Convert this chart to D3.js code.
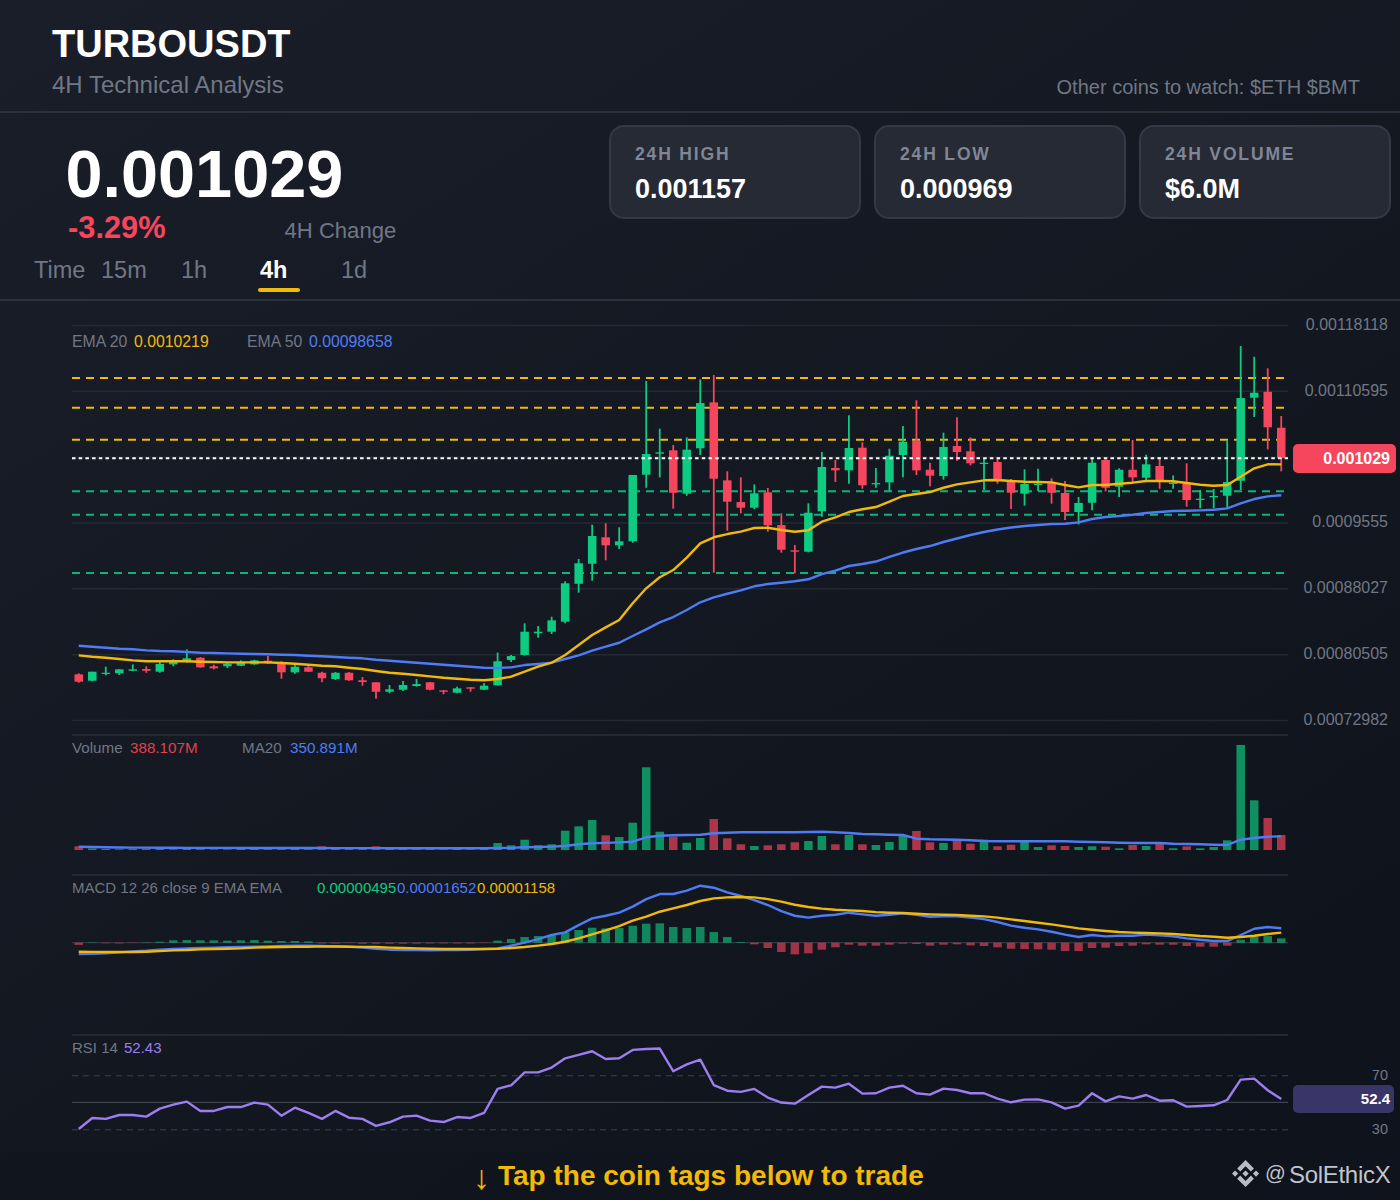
<!DOCTYPE html>
<html>
<head>
<meta charset="utf-8">
<script src="https://cdn.jsdelivr.net/npm/d3@7"></script>
<style>
  html, body { margin: 0; padding: 0; background: #12161f; }
  svg { display: block; font-family: "Liberation Sans", Arial, sans-serif; }
</style>
</head>
<body>
<div id="chart"></div>
<script>
// prices are in millionths of USDT
const opens = [782.0,774.7,782.4,783.2,786.1,788.1,785.0,793.4,796.4,801.0,
  791.2,791.2,791.8,793.4,797.6,794.6,784.3,790.0,783.8,776.7,
  783.8,775.2,772.9,762.1,764.4,768.7,772.9,763.7,761.0,767.2,
  764.4,769.5,798.4,804.1,828.9,830.7,842.1,885.5,908.4,938.6,
  929.4,934.0,1010.1,1034.1,1038.0,988.4,1040.3,1092.8,1003.7,978.9,
  972.4,990.0,952.6,923.7,922.1,968.3,1017.8,1015.1,1041.0,999.1,
  1001.4,1032.6,1048.6,1015.8,1008.6,1042.9,1036.8,1022.3,1024.6,1004.0,
  988.4,998.3,1000.6,989.2,967.5,978.1,1026.9,996.4,1015.8,1006.7,
  1020.1,999.5,1000.3,981.2,984.3,986.1,1003.2,1098.1,1104.9,1063.8]
const closes = [773.6,785.0,783.8,787.7,787.7,786.1,793.8,797.6,800.3,790.0,
  788.9,794.1,795.3,798.0,794.6,784.3,790.7,785.0,777.5,783.8,
  775.2,773.2,762.1,764.9,769.8,770.9,764.4,762.1,766.0,765.6,
  769.0,796.9,802.9,830.7,830.7,843.7,886.0,908.9,940.1,929.4,
  934.0,1009.8,1033.8,1035.7,989.5,1038.7,1092.0,1005.5,979.3,972.4,
  988.8,952.3,924.4,922.1,966.7,1018.9,1015.1,1040.6,998.0,1000.6,
  1031.8,1047.8,1015.1,1009.0,1041.8,1036.0,1023.1,1023.8,1004.0,989.5,
  999.5,999.8,989.5,967.5,977.8,1023.8,995.2,1015.8,1007.1,1022.0,
  1002.9,1001.0,981.2,982.7,985.8,1001.8,1097.7,1103.8,1064.3,1029.0]
const highs = [783.2,785.0,790.7,787.7,793.4,791.2,796.9,799.2,810.6,801.8,
  793.0,796.4,798.0,798.7,802.9,796.9,793.0,792.6,785.0,784.6,
  784.6,778.9,773.2,769.8,774.4,776.7,773.2,764.1,767.9,767.5,
  771.7,806.9,804.1,840.3,837.2,847.8,888.3,913.8,953.0,954.6,
  950.0,1009.8,1117.2,1062.7,1044.0,1052.8,1119.1,1124.0,1014.0,1007.1,
  999.1,994.9,966.0,929.8,977.4,1036.0,1026.9,1078.0,1047.1,1017.8,
  1039.8,1065.8,1095.1,1023.8,1058.1,1075.7,1052.8,1028.8,1029.5,1005.2,
  1016.3,1017.0,1006.0,1002.9,984.6,1028.8,1027.7,1017.4,1049.8,1033.0,
  1030.0,1009.4,1023.1,992.6,993.8,1049.8,1157.2,1144.9,1131.7,1077.2]
const lows = [772.4,774.0,780.9,781.2,785.8,783.8,783.8,791.2,795.3,789.6,
  787.7,789.2,791.5,793.0,793.8,777.0,782.7,784.6,772.9,775.5,
  774.7,769.0,754.1,760.3,762.9,767.9,763.7,759.2,760.3,762.1,
  764.1,769.0,796.1,803.3,823.8,828.1,840.3,875.3,889.0,912.3,
  925.2,932.4,995.2,1007.1,971.3,986.1,1032.6,898.1,946.1,966.0,
  970.6,945.0,921.0,897.4,921.4,962.1,1001.8,999.8,994.1,995.2,
  991.5,1007.1,1009.8,996.8,1004.4,1026.1,1020.8,992.6,999.8,970.9,
  974.7,991.5,977.0,958.3,953.4,969.4,991.1,984.6,1001.0,1002.9,
  994.1,994.1,973.5,971.7,971.7,972.4,992.6,1076.0,1039.1,1014.0]
const ema20 = [803.7,802.1,801.0,799.5,798.0,796.9,796.9,796.9,796.9,796.4,
  796.1,795.7,795.7,795.7,795.7,794.9,794.1,793.0,791.8,791.2,
  789.6,788.1,785.8,783.8,782.7,781.2,779.7,778.1,777.0,775.8,
  775.2,776.7,779.3,785.2,790.7,795.3,804.1,815.5,826.9,835.7,
  844.1,863.2,880.3,892.9,901.2,915.3,931.7,938.6,942.3,945.0,
  949.2,949.5,946.9,945.0,946.6,956.4,961.4,967.5,970.6,973.2,
  979.3,985.8,988.1,990.3,995.2,999.1,1001.4,1003.7,1004.0,1002.9,
  1002.1,1001.8,1001.4,998.3,995.7,998.3,998.3,999.8,1001.0,1002.9,
  1002.9,1002.6,1000.6,998.7,997.5,998.3,1007.8,1017.4,1022.0,1021.9]
const ema50 = [814.7,813.6,812.4,811.3,810.6,809.4,808.6,808.3,807.5,806.7,
  806.4,806.0,805.6,805.2,804.9,804.4,804.1,803.3,802.6,801.8,
  801.0,800.3,798.7,797.6,796.4,795.3,794.1,793.0,791.8,790.7,
  789.6,789.2,790.0,792.6,793.8,795.3,799.5,803.7,809.0,813.6,
  818.1,825.8,833.4,841.4,847.5,855.5,864.3,870.0,874.1,878.0,
  882.6,885.2,886.7,888.3,890.6,896.6,900.6,905.8,908.1,910.9,
  916.1,921.2,925.2,928.6,933.2,937.2,941.2,944.6,947.5,949.8,
  951.5,952.6,953.8,954.1,955.7,959.5,961.8,962.9,964.4,966.3,
  967.5,968.6,969.0,969.4,970.1,971.7,977.4,982.3,985.4,986.58]
const resistanceLevels = [1120.6,1086.7,1050.1]
const supportLevels = [991.1,964.4,897.8]
const lastPrice = 1029.0
const priceTicks = [1181.18,1105.95,1030.73,955.5,880.27,805.05,729.82]
// the 1030.73 label sits behind the last price tag
const priceTickLabels = ["0.00118118","0.00110595","","0.0009555","0.00088027","0.00080505","0.00072982"]

// volume in millions
const volumes = [95,39,26,18,26,39,26,18,34,26,
  18,18,26,26,34,52,34,34,95,34,
  44,34,95,34,26,21,26,21,26,21,
  26,181,121,266,121,147,498,611,774,379,
  335,704,2134,472,343,188,310,800,302,147,
  103,121,147,199,232,361,147,387,147,129,
  206,361,490,199,181,250,163,266,95,137,
  214,77,121,103,77,95,85,44,129,103,
  188,44,95,44,77,250,2710,1282,826,388.1]
const volumeMa20 = [85,77,70,65,62,60,58,57,56,55,
  54,54,53,53,52,52,51,50,50,49,
  49,48,48,47,47,46,45,45,44,44,
  46,50,54,70,76,88,103,147,173,185,
  197,214,328,369,379,387,395,431,446,457,
  457,457,457,457,464,472,457,439,413,405,
  395,387,292,276,271,266,250,232,224,224,
  224,224,224,224,214,206,199,188,181,181,
  181,163,155,147,137,129,266,310,343,350.9]

// macd values in millionths
const macdHist = [-2.5,0.4,-0.6,-0.8,-0.4,0.4,1.1,2.7,3.0,2.7,
  2.7,2.3,2.7,3.0,2.3,1.9,1.9,1.5,-0.8,-0.8,
  -0.4,-1.1,-1.1,-1.1,-1.1,-1.0,-0.8,-0.8,-0.8,-0.8,
  -0.4,2.3,4.2,6.5,7.6,8.4,11.8,14.5,17.2,16.4,
  16.8,19.5,21.8,22.2,18.0,16.8,18.0,12.2,6.5,0.8,
  -1.9,-6.1,-10.7,-13.4,-12.2,-8.0,-5.3,-2.3,-3.4,-3.4,
  -2.3,-1.1,-1.5,-3.4,-2.3,-1.9,-3.1,-3.8,-5.3,-6.9,
  -7.3,-7.6,-8.0,-9.6,-9.6,-6.1,-5.7,-3.8,-3.4,-1.9,
  -2.3,-2.3,-3.8,-4.6,-4.6,-3.4,3.4,7.3,7.6,4.95]
const macdLine = [-13.0,-12.6,-12.2,-11.1,-9.9,-9.2,-8.0,-7.3,-6.5,-6.1,
  -5.7,-5.3,-5.0,-4.6,-4.2,-3.8,-3.4,-3.4,-3.8,-4.2,
  -4.6,-5.7,-6.9,-8.0,-8.4,-8.4,-8.8,-8.4,-8.4,-8.0,
  -7.3,-6.5,-3.4,0,4.2,8.8,11.8,20.2,27.9,30.9,
  34.4,41.3,50.0,55.8,55.8,59.6,65.3,63.0,57.7,53.5,
  48.9,43.2,36.3,30.9,28.7,30.9,32.1,34.4,32.5,30.9,
  32.1,33.6,32.1,29.8,30.2,30.2,28.7,27.1,23.7,19.5,
  17.2,15.3,12.6,9.2,6.5,8.8,7.3,8.0,8.0,9.2,
  8.4,7.3,5.0,3.4,1.9,1.9,8.8,16.0,18.0,16.52]
const signalLine = [-10.3,-10.5,-10.7,-10.7,-10.7,-10.3,-9.6,-8.8,-8.4,-7.6,
  -7.3,-6.9,-6.5,-5.7,-5.3,-5.0,-4.6,-4.6,-4.2,-4.4,
  -4.6,-4.8,-5.0,-5.7,-6.1,-6.5,-6.9,-7.3,-7.3,-7.3,
  -7.3,-6.9,-6.1,-5.0,-3.4,-1.5,1.1,5.0,9.6,14.1,
  19.1,25.2,29.8,35.5,39.3,43.2,47.8,50.8,52.0,52.3,
  52.0,50.0,47.0,43.5,40.9,39.0,37.8,37.1,36.3,35.1,
  34.4,34.0,33.2,32.5,32.1,31.7,30.9,30.2,28.7,26.7,
  24.8,22.9,21.0,18.7,16.4,14.9,13.4,12.2,11.5,11.1,
  10.7,9.9,8.8,7.6,6.9,5.7,6.5,8.0,9.9,11.58]

const rsiValues = [30.2,38.4,37.7,40.6,40.6,39.4,45.3,48.3,50.5,43.6,
  43.6,46.5,46.5,49.8,48.3,40.1,46.0,42.1,37.7,43.6,
  38.6,37.7,32.5,35.2,39.4,40.1,36.4,35.4,39.1,38.4,
  42.1,59.9,62.6,72.2,72.2,75.7,82.6,85.1,87.8,82.1,
  82.6,88.8,89.5,89.8,73.0,78.1,81.6,62.8,58.6,57.7,
  59.9,53.5,49.8,49.0,55.4,61.6,60.9,63.8,56.4,56.7,
  60.9,62.3,56.7,55.7,60.1,59.1,56.7,56.7,52.7,50.0,
  52.0,52.2,50.0,45.3,47.5,56.7,50.7,54.4,52.7,55.4,
  51.2,51.5,46.8,47.3,47.8,51.7,66.8,67.5,58.9,52.43]
const rsiTicks = [70,30]

const statLabels = ["24H HIGH","24H LOW","24H VOLUME"]
const statValues = ["0.001157","0.000969","$6.0M"]
const timeframes = ["15m","1h","4h","1d"]

const width = 1400
const height = 1200
const plotLeft = 72
const plotRight = 1288
const bullColor = "#0ecb81"
const bearColor = "#f6465d"
const yellow = "#f0b90b"
const blue = "#4e7cf6"
const purple = "#9b7ff0"
const mutedText = "#707785"
const gridColor = "#232833"

const isUp = i => closes[i] >= opens[i]

const svg = d3.select("#chart").append("svg")
    .attr("width", width)
    .attr("height", height)
    .attr("viewBox", [0, 0, width, height])

const gradient = svg.append("defs").append("linearGradient")
    .attr("id", "bg")
    .attr("x1", 0).attr("y1", 0).attr("x2", 0.75).attr("y2", 1)
gradient.append("stop").attr("offset", "0%").attr("stop-color", "#1a1e29")
gradient.append("stop").attr("offset", "100%").attr("stop-color", "#0f131b")

svg.append("rect").attr("width", width).attr("height", height).attr("fill", "url(#bg)")

const text = (x, y, str, size, fill, opt = {}) => svg.append("text")
    .attr("x", x)
    .attr("y", y)
    .attr("font-size", size)
    .attr("fill", fill)
    .attr("font-weight", opt.weight || "normal")
    .attr("text-anchor", opt.anchor || "start")
    .attr("letter-spacing", opt.spacing || 0)
    .text(str)

// header
text(52, 57, "TURBOUSDT", 38, "#ffffff", {weight: "bold"})
text(52, 93, "4H Technical Analysis", 24, mutedText)
text(1360, 94, "Other coins to watch: $ETH $BMT", 20, mutedText, {anchor: "end"})
svg.append("line").attr("x1", 0).attr("x2", width).attr("y1", 112).attr("y2", 112)
    .attr("stroke", "#333945").attr("stroke-width", 1.5)

text(65.5, 197, "0.001029", 66.6, "#ffffff", {weight: "bold"})
text(68, 238, "-3.29%", 30.8, bearColor, {weight: "bold"})
text(284.5, 238, "4H Change", 22.1, mutedText)

text(34, 278, "Time", 23.5, mutedText)
const timeframeX = d3.scaleOrdinal(timeframes, [101, 181, 260, 341])
timeframes.forEach(t => {
    const active = t === "4h"
    text(timeframeX(t), 278, t, 23.5, active ? "#ffffff" : mutedText, {weight: active ? "bold" : "normal"})
})
svg.append("rect").attr("x", 258).attr("y", 288).attr("width", 42).attr("height", 4)
    .attr("rx", 2).attr("fill", yellow)
svg.append("line").attr("x1", 0).attr("x2", width).attr("y1", 300).attr("y2", 300)
    .attr("stroke", "#333945").attr("stroke-width", 1.5)

// stat cards
statLabels.forEach((label, i) => {
    const x = 610 + i * 265
    svg.append("rect").attr("x", x).attr("y", 126).attr("width", 250).attr("height", 92)
        .attr("rx", 14).attr("fill", "#252a35").attr("stroke", "#333947").attr("stroke-width", 2)
    text(x + 25, 160, label, 17.5, "#808694", {weight: "bold", spacing: 1.85})
    text(x + 25, 198, statValues[i], 27, "#ffffff", {weight: "bold"})
})

// scales
const x = d3.scaleBand(d3.range(closes.length), [plotLeft, plotRight])
const barWidth = x.bandwidth() * 0.63
const cx = i => x(i) + x.bandwidth() / 2
const yPrice = d3.scaleLinear([729.82, 1181.18], [720, 325])
const yVolume = d3.scaleLinear([0, 2967], [850, 735])
const yMacd = d3.scaleLinear([-105.8, 77.6], [1035, 875])
const yRsi = d3.scaleLinear([30, 70], [1129.3, 1075.3])

// pane top rules
;[735, 875, 1035].forEach(y => {
    svg.append("line").attr("x1", plotLeft).attr("x2", plotRight).attr("y1", y).attr("y2", y)
        .attr("stroke", gridColor).attr("stroke-width", 2)
})

// price grid and right labels
svg.append("g")
    .attr("transform", `translate(${plotRight},0)`)
    .call(d3.axisRight(yPrice)
        .tickValues(priceTicks)
        .tickSize(-(plotRight - plotLeft))
        .tickFormat((d, i) => priceTickLabels[i]))
    .call(g => g.select(".domain").remove())
    .call(g => g.selectAll(".tick line").attr("stroke", gridColor).attr("stroke-width", 1.5))
    .call(g => g.selectAll(".tick text")
        .attr("x", 100)
        .attr("dy", "0.28em")
        .attr("text-anchor", "end")
        .attr("fill", mutedText)
        .attr("font-family", "Liberation Sans")
        .attr("font-size", 16))

// key levels
svg.append("g").selectAll("line")
    .data(resistanceLevels)
    .join("line")
    .attr("x1", plotLeft).attr("x2", plotRight)
    .attr("y1", d => yPrice(d)).attr("y2", d => yPrice(d))
    .attr("stroke", yellow).attr("stroke-width", 2).attr("stroke-dasharray", "8 6")
svg.append("g").selectAll("line")
    .data(supportLevels)
    .join("line")
    .attr("x1", plotLeft).attr("x2", plotRight)
    .attr("y1", d => yPrice(d)).attr("y2", d => yPrice(d))
    .attr("stroke", "#0fb37a").attr("stroke-width", 2).attr("stroke-dasharray", "8 6")

// candles
const candle = svg.append("g").selectAll("g")
    .data(d3.range(closes.length))
    .join("g")
    .attr("fill", i => isUp(i) ? bullColor : bearColor)
    .attr("stroke", i => isUp(i) ? bullColor : bearColor)
candle.append("line")
    .attr("x1", cx).attr("x2", cx)
    .attr("y1", i => yPrice(highs[i]))
    .attr("y2", i => yPrice(lows[i]))
    .attr("stroke-width", 1.8)
candle.append("rect")
    .attr("x", i => cx(i) - barWidth / 2)
    .attr("width", barWidth)
    .attr("y", i => yPrice(Math.max(opens[i], closes[i])))
    .attr("height", i => Math.abs(yPrice(opens[i]) - yPrice(closes[i])))
    .attr("stroke", "none")

// moving averages
const lineOf = (y) => d3.line().x((d, i) => cx(i)).y(d => y(d))
const drawLine = (values, y, color) => svg.append("path")
    .attr("d", lineOf(y)(values))
    .attr("fill", "none")
    .attr("stroke", color)
    .attr("stroke-width", 2.4)
    .attr("stroke-linejoin", "round")
drawLine(ema50, yPrice, blue)
drawLine(ema20, yPrice, yellow)

// last price line sits above the candles
svg.append("line")
    .attr("x1", plotLeft).attr("x2", plotRight)
    .attr("y1", yPrice(lastPrice)).attr("y2", yPrice(lastPrice))
    .attr("stroke", "#ffffff").attr("stroke-width", 2).attr("stroke-dasharray", "3.5 3.2")

svg.append("rect").attr("x", 1293).attr("y", 444).attr("width", 103).attr("height", 29)
    .attr("rx", 5).attr("fill", bearColor)
text(1390, 464, "0.001029", 16, "#ffffff", {weight: "bold", anchor: "end"})

text(72, 347, "EMA 20", 15.8, mutedText)
text(134, 347, "0.0010219", 15.8, yellow)
text(247, 347, "EMA 50", 15.8, mutedText)
text(309, 347, "0.00098658", 15.8, blue)

// volume
svg.append("g").selectAll("rect")
    .data(volumes)
    .join("rect")
    .attr("x", (d, i) => cx(i) - barWidth / 2)
    .attr("width", barWidth)
    .attr("y", d => yVolume(d))
    .attr("height", d => yVolume(0) - yVolume(d))
    .attr("fill", (d, i) => isUp(i) ? bullColor : bearColor)
    .attr("fill-opacity", 0.68)
drawLine(volumeMa20, yVolume, blue)
text(72, 753, "Volume", 15.2, mutedText)
text(130, 753, "388.107M", 15.2, "#e0414f")
text(242, 753, "MA20", 15.2, mutedText)
text(290, 753, "350.891M", 15.2, blue)

// macd
svg.append("line").attr("x1", plotLeft).attr("x2", plotRight)
    .attr("y1", yMacd(0)).attr("y2", yMacd(0))
    .attr("stroke", "#3a3f4a").attr("stroke-width", 1)
svg.append("g").selectAll("rect")
    .data(macdHist)
    .join("rect")
    .attr("x", (d, i) => cx(i) - barWidth / 2)
    .attr("width", barWidth)
    .attr("y", d => d >= 0 ? yMacd(d) : yMacd(0))
    .attr("height", d => Math.abs(yMacd(d) - yMacd(0)))
    .attr("fill", d => d >= 0 ? bullColor : bearColor)
    .attr("fill-opacity", 0.62)
drawLine(macdLine, yMacd, blue)
drawLine(signalLine, yMacd, yellow)
text(72, 893, "MACD 12 26 close 9 EMA EMA", 15, mutedText)
text(317, 893, "0.00000495", 15, bullColor)
text(397, 893, "0.00001652", 15, blue)
text(477, 893, "0.00001158", 15, yellow)

// rsi
svg.append("g")
    .attr("transform", `translate(${plotRight},0)`)
    .call(d3.axisRight(yRsi)
        .tickValues(rsiTicks)
        .tickSize(-(plotRight - plotLeft))
        .tickFormat(d3.format("d")))
    .call(g => g.select(".domain").remove())
    .call(g => g.selectAll(".tick line").attr("stroke", "#3d424d").attr("stroke-dasharray", "6 5"))
    .call(g => g.selectAll(".tick text")
        .attr("x", 100)
        .attr("dy", "0.28em")
        .attr("text-anchor", "end")
        .attr("fill", mutedText)
        .attr("font-family", "Liberation Sans")
        .attr("font-size", 14.5))
svg.append("line").attr("x1", plotLeft).attr("x2", plotRight)
    .attr("y1", yRsi(50)).attr("y2", yRsi(50))
    .attr("stroke", "#3d424d").attr("stroke-width", 1.2)
drawLine(rsiValues, yRsi, purple)
svg.append("rect").attr("x", 1293).attr("y", 1085).attr("width", 101).attr("height", 28)
    .attr("rx", 5).attr("fill", "#3a3568")
text(1390, 1104, "52.4", 15, "#ffffff", {weight: "bold", anchor: "end"})
text(72, 1053, "RSI 14", 15, mutedText)
text(124, 1053, "52.43", 15, purple)

// footer
svg.append("rect").attr("y", 1152).attr("width", width).attr("height", 48)
    .attr("fill", "#0f131b").attr("fill-opacity", 0.5)
text(473, 1189, "↓", 34, yellow)
text(498, 1185, "Tap the coin tags below to trade", 28, yellow, {weight: "bold"})

svg.append("path")
    .attr("transform", "translate(1232,1160) scale(0.216)")
    .attr("fill", "#b8bcc4")
    .attr("d", "M38.171 53.203 62.759 28.616l24.6 24.6 14.307-14.307L62.759 0 23.864 38.896z M0 62.759l14.307-14.307 14.307 14.307-14.307 14.307z M38.171 72.314l24.588 24.587 24.6-24.6 14.307 14.3-38.907 38.907-38.895-38.895z M96.905 62.759l14.307-14.307 14.307 14.307-14.307 14.307z M77.283 62.747 62.759 48.222l-14.517 14.517 14.517 14.517 14.524-14.51z")
text(1265, 1180, "@", 20.5, "#c0c4cc")
text(1289, 1183, "SolEthicX", 24, "#c0c4cc", {spacing: -0.3})
</script>
</body>
</html>
